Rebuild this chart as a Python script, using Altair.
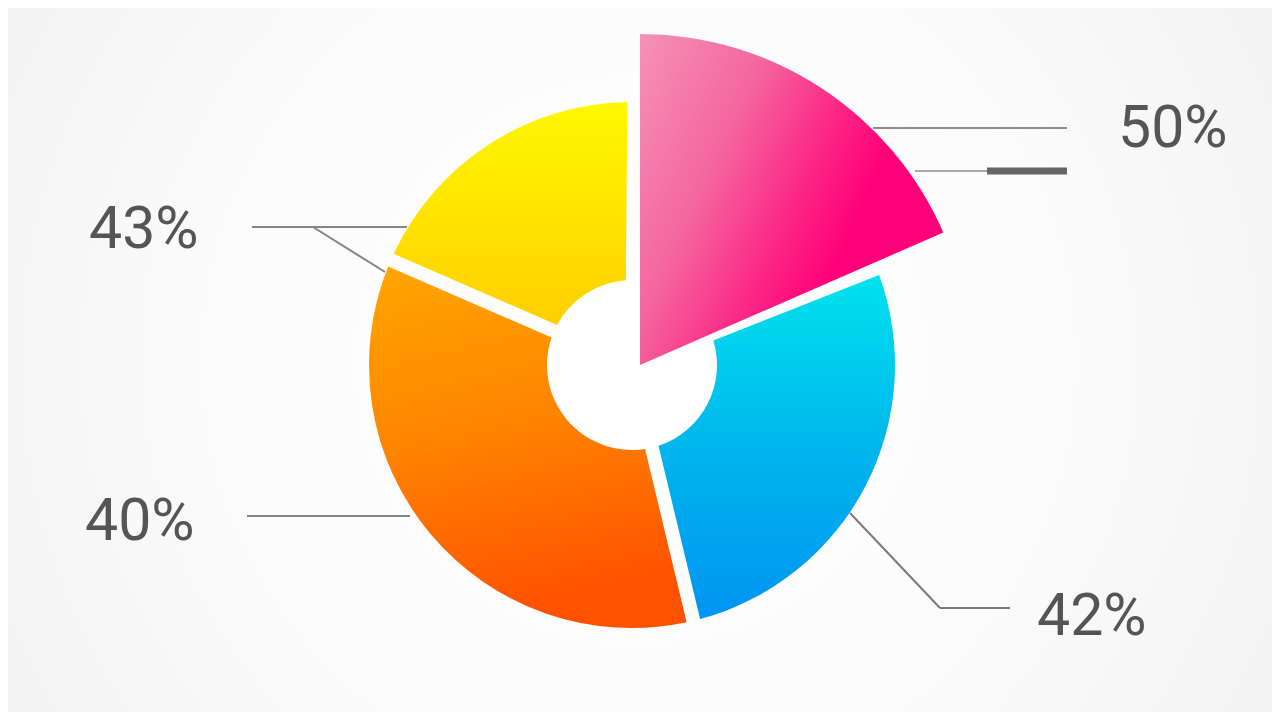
import altair as alt
import pandas as pd

# ---- data ----
slices = ["pink", "blue", "orange", "yellow"]
start_deg = [0.0, 68.5, 166.5, 293.5]
end_deg = [66.4, 166.5, 293.5, 360.5]
labels = ["50%", "42%", "40%", "43%"]

# ---- layout / styles (kept apart from the data) ----
W, H = 1264, 704
DONUT_CX, DONUT_CY = 624, 357
PINK_CX, PINK_CY = 632, 357
R_OUT, R_IN = 263, 85
R_PINK = 331

label_xy = {"50%": (1110, 139), "42%": (1029, 627), "40%": (77, 532), "43%": (81, 240)}

leaders = [
    # x, y, x2, y2, width, color
    (865, 120, 1059, 120, 2.0, "#8c8c8c"),
    (907, 163, 1059, 163, 1.6, "#8c8c8c"),
    (979, 163, 1059, 163, 7.0, "#666666"),
    (244, 219, 399, 219, 2.0, "#858585"),
    (305, 219, 377, 264, 2.0, "#858585"),
    (239, 508, 402, 508, 2.0, "#858585"),
    (842, 505, 932, 600, 2.0, "#7a7a7a"),
    (932, 600, 1002, 600, 2.0, "#7a7a7a"),
]

grad = {
    "pink": ([("#f592b5", 0.0), ("#f4669f", 0.35), ("#fb2585", 0.62), ("#ff0078", 0.8), ("#ff0078", 1.0)], (0, 0, 1, 0.5)),
    "blue": ([("#00e2ee", 0.0), ("#00b6ec", 0.5), ("#0094f2", 1.0)], (0, 0, 0, 1)),
    "orange": ([("#ffa600", 0.0), ("#ff8400", 0.5), ("#ff5200", 1.0)], (0, 0, 0.2, 1)),
    "yellow": ([("#fff800", 0.0), ("#ffe400", 0.5), ("#ffcf00", 1.0)], (0, 0, 0, 1)),
}


def gradient(name):
    stops, (x1, y1, x2, y2) = grad[name]
    return alt.Gradient(
        gradient="linear",
        stops=[alt.GradientStop(color=c, offset=o) for c, o in stops],
        x1=x1, y1=y1, x2=x2, y2=y2,
    )


df = pd.DataFrame({"name": slices, "start": start_deg, "end": end_deg, "label": labels})

theta_scale = alt.Scale(domain=[0, 360], range=[0, 6.283185307179586])

base = alt.Chart(df)

layers = []

# background (soft radial light-grey)
bg = alt.Chart(alt.Data(values=[{"a": 1}])).mark_rect(
    fill=alt.Gradient(
        gradient="radial",
        stops=[alt.GradientStop(color="#ffffff", offset=0.0),
               alt.GradientStop(color="#fbfbfb", offset=0.45),
               alt.GradientStop(color="#ededed", offset=1.0)],
        x1=0.5, y1=0.5, r1=0.0, x2=0.5, y2=0.5, r2=0.75,
    )
).encode(x=alt.value(0), x2=alt.value(W), y=alt.value(0), y2=alt.value(H))
layers.append(bg)

# leader lines
lines_df = pd.DataFrame(leaders, columns=["x", "y", "x2", "y2", "w", "c"])
for i, row in lines_df.iterrows():
    layers.append(
        alt.Chart(alt.Data(values=[row.to_dict()])).mark_rule(
            strokeWidth=float(row.w), color=row.c, strokeCap="butt"
        ).encode(
            x=alt.X("x:Q", scale=None),
            y=alt.Y("y:Q", scale=None),
            x2="x2:Q",
            y2="y2:Q",
        )
    )

# donut slices
for name in ["blue", "orange", "yellow"]:
    layers.append(
        base.transform_filter(alt.datum.name == name).mark_arc(
            outerRadius=R_OUT, innerRadius=R_IN, padAngle=0.05,
            x=DONUT_CX, y=DONUT_CY, fill=gradient(name),
        ).encode(
            theta=alt.Theta("start:Q", scale=theta_scale, stack=None),
            theta2="end:Q",
        )
    )

# exploded pink wedge
layers.append(
    base.transform_filter(alt.datum.name == "pink").mark_arc(
        outerRadius=R_PINK, innerRadius=0,
        x=PINK_CX, y=PINK_CY, fill=gradient("pink"),
    ).encode(
        theta=alt.Theta("start:Q", scale=theta_scale, stack=None),
        theta2="end:Q",
    )
)

# labels
lab_df = pd.DataFrame({
    "label": labels,
    "px": [label_xy[l][0] for l in labels],
    "py": [label_xy[l][1] for l in labels],
})
layers.append(
    alt.Chart(lab_df).mark_text(
        font="Roboto", fontSize=59, fontWeight=400, color="#555555",
        align="left", baseline="alphabetic",
    ).encode(
        x=alt.X("px:Q", scale=None),
        y=alt.Y("py:Q", scale=None),
        text="label:N",
    )
)

chart = alt.layer(*layers).properties(
    width=W, height=H, padding=0, autosize=alt.AutoSizeParams(type="none"),
    background="#f3f3f3",
).configure_view(stroke=None)

chart.save("out.html", embed_options={"renderer": "svg", "actions": False})
